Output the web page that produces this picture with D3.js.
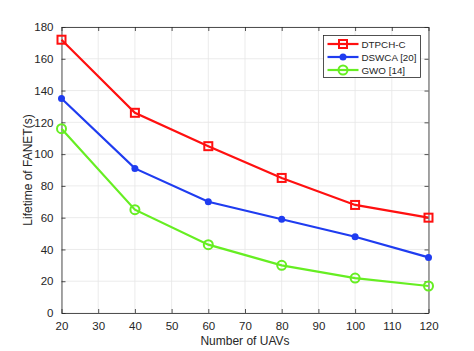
<!DOCTYPE html>
<html>
<head>
<meta charset="utf-8">
<script src="https://cdn.jsdelivr.net/npm/d3@7"></script>
<style>
  body { margin: 0; background: #fff; }
  text { font-family: "Liberation Sans", Arial, sans-serif; }
</style>
</head>
<body>
<div id="chart"></div>
<script>
// data
const uavs = [20, 40, 60, 80, 100, 120];
const dtpch = [172, 126, 105, 85, 68, 60];
const dswca = [135, 91, 70, 59, 48, 35];
const gwo = [116, 65, 43, 30, 22, 17];
const xTicks = [20, 30, 40, 50, 60, 70, 80, 90, 100, 110, 120];
const yTicks = [0, 20, 40, 60, 80, 100, 120, 140, 160, 180];
const seriesNames = ["DTPCH-C", "DSWCA [20]", "GWO [14]"];

const width = 474, height = 351;
const margin = { left: 61.5, right: 45.5, top: 27, bottom: 38 };

const svg = d3.select("#chart").append("svg")
  .attr("width", width)
  .attr("height", height);

const x = d3.scaleLinear().domain([20, 120]).range([margin.left, width - margin.right]);
const y = d3.scaleLinear().domain([0, 180]).range([height - margin.bottom, margin.top]);

const axisColor = "#262626";

// grid
svg.append("g").selectAll("line").data(xTicks).join("line")
  .attr("x1", d => x(d)).attr("x2", d => x(d))
  .attr("y1", y(0)).attr("y2", y(180))
  .attr("stroke", "#e6e6e6").attr("stroke-width", 0.8);
svg.append("g").selectAll("line").data(yTicks).join("line")
  .attr("y1", d => y(d)).attr("y2", d => y(d))
  .attr("x1", x(20)).attr("x2", x(120))
  .attr("stroke", "#e6e6e6").attr("stroke-width", 0.8);

// axes with inward ticks
const axBottom = svg.append("g").attr("transform", `translate(0,${y(0)})`)
  .call(d3.axisBottom(x).tickValues(xTicks).tickSizeInner(-4).tickSizeOuter(0).tickPadding(9));
const axLeft = svg.append("g").attr("transform", `translate(${x(20)},0)`)
  .call(d3.axisLeft(y).tickValues(yTicks).tickSizeInner(-4).tickSizeOuter(0).tickPadding(8));
const axTop = svg.append("g").attr("transform", `translate(0,${y(180)})`)
  .call(d3.axisTop(x).tickValues(xTicks).tickSizeInner(-4).tickSizeOuter(0).tickFormat(""));
const axRight = svg.append("g").attr("transform", `translate(${x(120)},0)`)
  .call(d3.axisRight(y).tickValues(yTicks).tickSizeInner(-4).tickSizeOuter(0).tickFormat(""));

[axBottom, axLeft, axTop, axRight].forEach(g => {
  g.selectAll("path, line").attr("stroke", axisColor).attr("stroke-width", 0.8);
  g.selectAll("text").attr("fill", axisColor).attr("font-size", 11.5)
    .attr("font-family", "Liberation Sans, Arial, sans-serif");
});

// axis labels
svg.append("text")
  .attr("x", (x(20) + x(120)) / 2).attr("y", 345)
  .attr("text-anchor", "middle").attr("font-size", 12).attr("fill", axisColor)
  .text("Number of UAVs");
svg.append("text")
  .attr("transform", `translate(32,${(y(0) + y(180)) / 2}) rotate(-90)`)
  .attr("text-anchor", "middle").attr("font-size", 12).attr("fill", axisColor)
  .text("Lifetime of FANET(s)");

// series
const series = [
  { name: seriesNames[0], values: dtpch, color: "#ff1010", marker: "square" },
  { name: seriesNames[1], values: dswca, color: "#1f3cf0", marker: "dot" },
  { name: seriesNames[2], values: gwo, color: "#66ee22", marker: "circle" }
];

const line = d3.line().x((d, i) => x(uavs[i])).y(d => y(d));

function drawMarker(g, type, color, cx, cy) {
  if (type === "square") {
    g.append("rect").attr("x", cx - 4).attr("y", cy - 4).attr("width", 8).attr("height", 8)
      .attr("fill", "none").attr("stroke", color).attr("stroke-width", 2);
  } else if (type === "dot") {
    g.append("circle").attr("cx", cx).attr("cy", cy).attr("r", 3.5).attr("fill", color);
  } else {
    g.append("circle").attr("cx", cx).attr("cy", cy).attr("r", 4.5)
      .attr("fill", "none").attr("stroke", color).attr("stroke-width", 2);
  }
}

series.forEach(s => {
  svg.append("path").datum(s.values)
    .attr("d", line).attr("fill", "none")
    .attr("stroke", s.color).attr("stroke-width", 2.2);
  const mg = svg.append("g");
  s.values.forEach((v, i) => drawMarker(mg, s.marker, s.color, x(uavs[i]), y(v)));
});

// legend
const lg = svg.append("g").attr("transform", "translate(323.5,35.5)");
lg.append("rect").attr("width", 97).attr("height", 42)
  .attr("fill", "#fff").attr("stroke", axisColor).attr("stroke-width", 0.8);
series.forEach((s, i) => {
  const yy = 8.5 + i * 13;
  lg.append("line").attr("x1", 4).attr("x2", 35).attr("y1", yy).attr("y2", yy)
    .attr("stroke", s.color).attr("stroke-width", 2.2);
  drawMarker(lg, s.marker, s.color, 19.5, yy);
  lg.append("text").attr("x", 38).attr("y", yy + 3.5)
    .attr("font-size", 9.8).attr("fill", axisColor).text(s.name);
});
</script>
</body>
</html>
